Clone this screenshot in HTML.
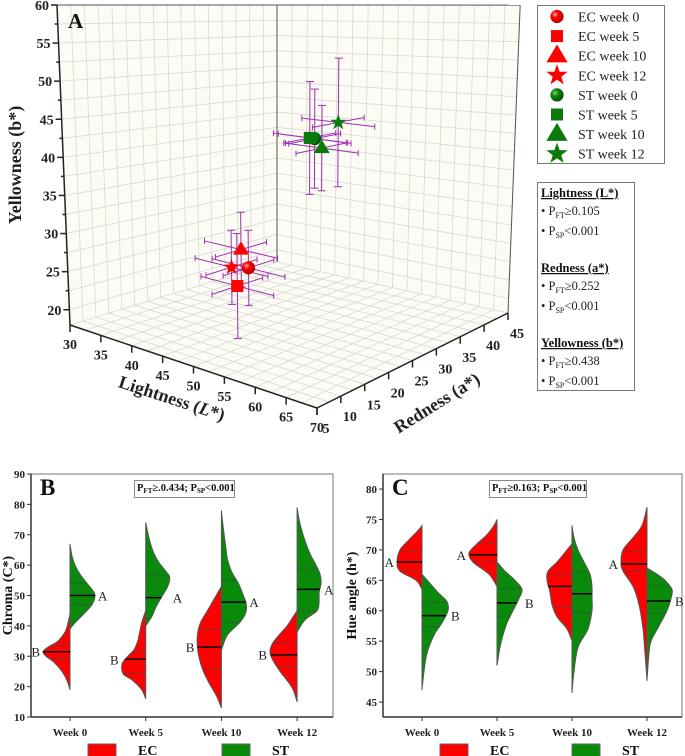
<!DOCTYPE html>
<html><head><meta charset="utf-8">
<style>
html,body{margin:0;padding:0;background:#fff;}
svg{display:block;font-family:"Liberation Serif",serif;}
</style></head>
<body>
<svg id="fig" width="685" height="756" viewBox="0 0 685 756" xmlns="http://www.w3.org/2000/svg">
<defs>
<radialGradient id="gr" cx="0.35" cy="0.35" r="0.7"><stop offset="0" stop-color="#ffb0b0"/><stop offset="0.35" stop-color="#f00"/><stop offset="1" stop-color="#a00"/></radialGradient>
<radialGradient id="gg" cx="0.35" cy="0.35" r="0.7"><stop offset="0" stop-color="#8fd08f"/><stop offset="0.35" stop-color="#0a8a0a"/><stop offset="1" stop-color="#044a04"/></radialGradient>
</defs>
<g id="pa"></g>
<g id="pb"></g>
<g id="pc"></g>
</svg>
<script>
// ---------- Panel A data ----------
const seriesNames = ["EC week 0","EC week 5","EC week 10","EC week 12","ST week 0","ST week 5","ST week 10","ST week 12"];
const lightness = [46, 44.8, 44.8, 43.2, 46.8, 46, 48, 50];
const redness = [21, 20.2, 21, 21, 33, 33, 33, 33.8];
const yellowness = [26, 23.5, 28.2, 25.5, 41.7, 41.7, 40.5, 44.2];
const errL = [6, 6, 6, 6, 6, 6, 6, 6];
const errA = [5, 5, 5, 5, 5, 5, 5, 5];
const errB = [5, 7, 5, 5, 7, 8, 6, 9];
const lTicks = [30,35,40,45,50,55,60,65,70];
const aTicks = [5,10,15,20,25,30,35,40,45];
const bTicks = [20,25,30,35,40,45,50,55,60];

// ---------- Panel B data ----------
const weeks = ["Week 0","Week 5","Week 10","Week 12"];
const chromaTicks = [10,20,30,40,50,60,70,80,90];
const chromaECv = [[19,22,25,28,30,31.5,33,35,38,41,44],[16,19,22,24,26,28,30,32,35,38,41,45],[13,17,21,25,29,33,37,41,45,49,53],[15,19,22,25,28,31,34,37,40,43,45]];
const chromaECd = [[0,3,8,16,24,27,22,12,5,2,0],[0,4,13,22,24,23,18,12,8,6,4,0],[0,5,12,18,22,24,24,21,14,7,0],[0,4,10,17,23,27,25,18,10,4,0]];
const chromaSTv = [[39,41,44,47,50,52,54,57,60,63,67],[40,43,46,49,53,56,58,61,64,68,74],[32,37,41,44,47,50,54,58,62,67,72,78],[38,42,45,48,51,54,57,60,63,67,71,75,79]];
const chromaSTd = [[0,5,14,22,25,22,17,10,5,2,0],[0,6,10,15,22,24,20,13,8,4,0],[0,6,18,24,25,22,17,10,6,4,2,0],[0,8,20,22,22,24,23,19,14,9,5,2,0]];
const chromaECq = [[29,31.5,33.5],[24.5,29,31.5],[26,33,39],[26.5,30.5,34.5]];
const chromaSTq = [[47,50,54],[42.5,49.3,56.5],[41,47.8,55],[45,52,59]];

// ---------- Panel C data ----------
const hueTicks = [45,50,55,60,65,70,75,80];
const hueECv = [[63.5,65,66.5,68,70,71.5,73,74],[64,66,68,69.5,71,72.5,74,75],[55,57,59,61,63,65,66.5,68,70,71],[48.5,53,57,61,64,66.5,68,70,72,74,77]];
const hueECd = [[0,6,22,25,22,14,5,0],[0,8,24,28,20,10,3,0],[0,5,15,20,22,25,24,15,5,0],[0,2,4,8,14,24,26,24,14,5,0]];
const hueSTv = [[47,50,53,56,58,60,61.5,63,64.5,66],[51,54,56,58,60,62,63.5,65,66.5,68],[46.5,50,54,57,60,62,64,66,68,70,72,74],[48.5,53,55,57.5,60,62,63.5,65,66,67]];
const hueSTd = [[0,2,5,12,20,26,25,16,8,0],[0,3,6,10,16,22,25,18,8,0],[0,2,6,16,20,20,20,18,12,6,2,0],[0,2,4,12,20,24,25,18,10,0]];
const hueECq = [[66.5,68,69.8],[68,69.2,71.2],[60.6,64,66],[66.5,67.7,69.8]];
const hueSTq = [[57.4,59.2,61.4],[59,61.3,63.7],[59.7,62.8,66.4],[59.6,61.6,64.2]];

const NS="http://www.w3.org/2000/svg";
function mk(parent, tag, attrs, txt){const e=document.createElementNS(NS,tag);for(const k in attrs)e.setAttribute(k,attrs[k]);if(txt!==undefined)e.textContent=txt;parent.appendChild(e);return e;}
const TK='font-weight:bold;fill:#222;';

// ================= PANEL A =================
const pa=document.getElementById('pa');
const C={LF:[70,325],F:[317,408],R:[508,313],B:[277,262]};
const H={LF:7.62,F:8.83,R:7.33,B:6.12};
const S={LF:-0.31,F:-0.02,R:0.29,B:0};
const bMin=18, bMax=60;
function proj(L,a,b){
  const u=(L-30)/40, v=(a-5)/40;
  const w={LF:(1-u)*(1-v),F:u*(1-v),R:u*v,B:(1-u)*v};
  let x=0,y=0,h=0,s=0;
  for(const k in w){x+=w[k]*C[k][0];y+=w[k]*C[k][1];h+=w[k]*H[k];s+=w[k]*S[k];}
  return [x+(b-bMin)*s, y-(b-bMin)*h];
}
function pstr(pts){return pts.map(p=>p[0].toFixed(1)+','+p[1].toFixed(1)).join(' ');}
let wl=mk(pa,'polygon',{points:pstr([proj(30,5,bMin),proj(30,5,bMax),proj(30,45,bMax),proj(30,45,bMin)]),fill:'#fcfcf5',stroke:'none'});


let wr=mk(pa,'polygon',{points:pstr([proj(30,45,bMin),proj(30,45,bMax),proj(70,45,bMax),proj(70,45,bMin)]),fill:'#fcfcf5',stroke:'none'});


let fl=mk(pa,'polygon',{points:pstr([proj(30,5,bMin),proj(70,5,bMin),proj(70,45,bMin),proj(30,45,bMin)]),fill:'#fcfcf5',stroke:'none'});


const grid=mk(pa,'g',{stroke:'#d9d9d4','stroke-width':0.8});


function ln(g,p,q){mk(g,'line',{x1:p[0],y1:p[1],x2:q[0],y2:q[1]});}
for(let a=5;a<=45;a+=2.5){ln(grid,proj(30,a,bMin),proj(30,a,bMax));ln(grid,proj(30,a,bMin),proj(70,a,bMin));}
for(let L=30;L<=70;L+=2.5){ln(grid,proj(L,45,bMin),proj(L,45,bMax));ln(grid,proj(L,5,bMin),proj(L,45,bMin));}
for(let b=20;b<=60;b+=2.5){ln(grid,proj(30,5,b),proj(30,45,b));ln(grid,proj(30,45,b),proj(70,45,b));}
ln(grid,proj(30,5,bMax),proj(30,45,bMax));
const edges=mk(pa,'g',{stroke:'#555','stroke-width':1});


ln(edges,proj(30,45,bMin),proj(30,45,bMax));
ln(edges,proj(30,45,bMax),proj(70,45,bMax));
ln(edges,proj(70,45,bMax),proj(70,45,bMin));
ln(edges,proj(30,5,bMax),proj(30,45,bMax));
const ax=mk(pa,'g',{stroke:'#222','stroke-width':1.5});


ln(ax,proj(30,5,bMin),proj(30,5,bMax));
ln(ax,proj(30,5,bMin),proj(70,5,bMin));
ln(ax,proj(70,5,bMin),proj(70,45,bMin));
const tl=mk(pa,'g',{});


bTicks.forEach(b=>{const p=proj(30,5,b);ln(ax,p,[p[0]-6,p[1]]);mk(tl,'text',{x:p[0]-8,y:p[1]+5,'text-anchor':'end',style:TK+'font-size:14px;'},b);});
for(let b=22.5;b<60;b+=5){const p=proj(30,5,b);ln(ax,p,[p[0]-3,p[1]]);}
lTicks.forEach(L=>{const p=proj(L,5,bMin);ln(ax,p,[p[0],p[1]+7]);mk(tl,'text',{x:p[0],y:p[1]+24,'text-anchor':'middle',style:TK+'font-size:14px;'},L);});
aTicks.forEach(a=>{const p=proj(70,a,bMin);ln(ax,p,[p[0],p[1]+7]);mk(tl,'text',{x:p[0]+9,y:p[1]+25,'text-anchor':'middle',style:TK+'font-size:14px;'},a);});
let t=mk(pa,'text',{x:0,y:0,transform:'translate(21,165) rotate(-90)','text-anchor':'middle',style:'font-size:18px;font-weight:bold;fill:#222;'},'Yellowness (b*)');


t=mk(pa,'text',{x:0,y:0,transform:'translate(170,404) rotate(18)','text-anchor':'middle',style:'font-size:18px;font-weight:bold;fill:#222;'},'');
t.innerHTML='Lightness (<tspan font-style="italic">L</tspan>*)';


t=mk(pa,'text',{x:0,y:0,transform:'translate(440,408) rotate(-32)','text-anchor':'middle',style:'font-size:18px;font-weight:bold;fill:#222;'},'Redness (a*)');


t=mk(pa,'text',{x:68,y:28,style:'font-size:21px;font-weight:bold;fill:#111;'},'A');


function marker(g,shape,x,y,fill,sz){
  if(shape==='sphere'){return mk(g,'circle',{cx:x,cy:y,r:sz*0.55,fill:fill});}
  if(shape==='square'){return mk(g,'rect',{x:x-sz*0.5,y:y-sz*0.5,width:sz,height:sz,fill:fill});}
  if(shape==='triangle'){const r=sz*0.7;return mk(g,'polygon',{points:`${x},${y-r} ${x+r*0.95},${y+r*0.6} ${x-r*0.95},${y+r*0.6}`,fill:fill});}
  const pts=[];for(let i=0;i<10;i++){const r=i%2?sz*0.28:sz*0.7;const an=-Math.PI/2+i*Math.PI/5;pts.push([x+r*Math.cos(an),y+r*Math.sin(an)]);}
  return mk(g,'polygon',{points:pstr(pts),fill:fill});
}
const shapes=['sphere','square','triangle','star','sphere','square','triangle','star'];
const err=mk(pa,'g',{stroke:'#a030b0','stroke-width':1});


const pts=mk(pa,'g',{});


seriesNames.forEach((nm,i)=>{
  const L=lightness[i],a=redness[i],b=yellowness[i];
  const p1=proj(L-errL[i],a,b),p2=proj(L+errL[i],a,b);ln(err,p1,p2);
  [p1,p2].forEach(p=>ln(err,[p[0],p[1]-3],[p[0],p[1]+3]));
  const q1=proj(L,a-errA[i],b),q2=proj(L,a+errA[i],b);ln(err,q1,q2);
  [q1,q2].forEach(p=>ln(err,[p[0],p[1]-3],[p[0],p[1]+3]));
  const r1=proj(L,a,b-errB[i]),r2=proj(L,a,b+errB[i]);ln(err,r1,r2);
  [r1,r2].forEach(p=>ln(err,[p[0]-4,p[1]],[p[0]+4,p[1]]));
  const c=proj(L,a,b);
  const fill=i<4?(shapes[i]==='sphere'?'url(#gr)':'#f00'):(shapes[i]==='sphere'?'url(#gg)':'#0a7a0a');
  const m=marker(pts,shapes[i],c[0],c[1],fill,12);
  
  
});
const lg=mk(pa,'g',{});


mk(lg,'rect',{x:537.5,y:5.5,width:127,height:158,fill:'#fff',stroke:'#777','stroke-width':1});
seriesNames.forEach((nm,i)=>{
  const y=16.5+i*19.6;
  const fill=i<4?(shapes[i]==='sphere'?'url(#gr)':'#f00'):(shapes[i]==='sphere'?'url(#gg)':'#0a7a0a');
  const g=mk(lg,'g',{});
  
  
  marker(g,shapes[i],557,y,fill,shapes[i]==='star'||shapes[i]==='triangle'?16:12);
  mk(g,'text',{x:578,y:y+5,style:'font-size:14px;fill:#222;'},nm);
});
const sb=mk(pa,'g',{});


mk(sb,'rect',{x:537.5,y:182.5,width:97,height:208,fill:'#fff',stroke:'#777','stroke-width':1});
const stats=[["Lightness (L*)","0.105"],["Redness (a*)","0.252"],["Yellowness (b*)","0.438"]];
stats.forEach((s,i)=>{
  const y0=197+i*75;
  mk(sb,'text',{x:541,y:y0,'text-decoration':'underline',style:'font-size:12.5px;font-weight:bold;fill:#111;'},s[0]);
  const a=mk(sb,'text',{x:541,y:y0+18,style:'font-size:12.5px;fill:#222;'},'');
  a.innerHTML='• P<tspan font-size="8" dy="3">FT</tspan><tspan dy="-3">≥'+s[1]+'</tspan>';
  const b=mk(sb,'text',{x:541,y:y0+38,style:'font-size:12.5px;fill:#222;'},'');
  b.innerHTML='• P<tspan font-size="8" dy="3">SP</tspan><tspan dy="-3">&lt;0.001</tspan>';
});

// ================= VIOLINS =================
function smoothPath(p){
  let d='';
  for(let i=0;i<p.length-1;i++){
    const p0=p[Math.max(0,i-1)],p1=p[i],p2=p[i+1],p3=p[Math.min(p.length-1,i+2)];
    const c1=[p1[0]+(p2[0]-p0[0])/6,p1[1]+(p2[1]-p0[1])/6];
    const c2=[p2[0]-(p3[0]-p1[0])/6,p2[1]-(p3[1]-p1[1])/6];
    d+=` C${c1[0].toFixed(1)},${c1[1].toFixed(1)} ${c2[0].toFixed(1)},${c2[1].toFixed(1)} ${p2[0].toFixed(1)},${p2[1].toFixed(1)}`;
  }
  return d;
}
function widthAt(vs,ds,v){for(let i=0;i<vs.length-1;i++){if(v>=vs[i]&&v<=vs[i+1]){const t=(v-vs[i])/(vs[i+1]-vs[i]);return ds[i]+t*(ds[i+1]-ds[i]);}}return 0;}
function violinPanel(g,cfg){
  const {x0,x1,y0,y1,vmin,vmax,ticks,cats,ecV,ecD,stV,stD,ecQ,stQ,title,letter,ptxt,pbox,ecLab,stLab,leg}=cfg;
  const y=v=>y1-(v-vmin)/(vmax-vmin)*(y1-y0);
  const cx=i=>cfg.cx0+i*cfg.dcx;
  const fr=mk(g,'rect',{x:x0,y:y0,width:x1-x0,height:y1-y0,fill:'none',stroke:'#777','stroke-width':1});
  
  
  const ya=mk(g,'g',{});
  
  
  mk(ya,'line',{x1:x0,y1:y0,x2:x0,y2:y1,stroke:'#333','stroke-width':1.5});
  mk(ya,'line',{x1:x0,y1:y1,x2:x1,y2:y1,stroke:'#333','stroke-width':1.5});
  ticks.forEach(v=>{mk(ya,'line',{x1:x0-4,y1:y(v),x2:x0,y2:y(v),stroke:'#333'});mk(ya,'text',{x:x0-6,y:y(v)+4,'text-anchor':'end',style:TK+'font-size:11px;'},v);});
  const xa=mk(g,'g',{});
  
  
  cats.forEach((c,i)=>{mk(xa,'line',{x1:cx(i),y1:y1,x2:cx(i),y2:y1+4,stroke:'#333'});mk(xa,'text',{x:cx(i),y:y1+19,'text-anchor':'middle',style:TK+'font-size:11px;'},c);});
  let tt=mk(g,'text',{x:0,y:0,transform:`translate(${cfg.tx},${(y0+y1)/2}) rotate(-90)`,'text-anchor':'middle',style:'font-size:14px;font-weight:bold;fill:#111;'},title);
  
  
  tt=mk(g,'text',{x:x0+9,y:y0+21,style:'font-size:23px;font-weight:bold;fill:#111;'},letter);
  
  
  const pb=mk(g,'g',{});
  
  
  mk(pb,'rect',{x:pbox[0]+0.5,y:pbox[1]+0.5,width:pbox[2],height:pbox[3],fill:'#fff',stroke:'#888'});
  const pt=mk(pb,'text',{x:pbox[0]+3,y:pbox[1]+11,style:'font-size:10.5px;font-weight:bold;fill:#111;'},'');
  pt.innerHTML='P<tspan font-size="7" dy="2">FT</tspan><tspan dy="-2">≥'+ptxt+'; P</tspan><tspan font-size="7" dy="2">SP</tspan><tspan dy="-2">&lt;0.001</tspan>';
  cats.forEach((c,i)=>{
    [[ecV,ecD,ecQ,-1,'#f00',ecLab,'ec'],[stV,stD,stQ,1,'#0a8a0a',stLab,'st']].forEach(([V,D,Q,sgn,col,lab,nm])=>{
      const vs=V[i],ds=D[i];
      const p=vs.map((v,k)=>[cx(i)+sgn*ds[k],y(v)]);
      const d=`M${cx(i)},${y(vs[0]).toFixed(1)}`+smoothPath(p)+` L${cx(i)},${y(vs[vs.length-1]).toFixed(1)} Z`;
      const vg=mk(g,'g',{});
      
      
      mk(vg,'path',{d:d,fill:col,stroke:'#555','stroke-width':1});
      Q[i].forEach((q,k)=>{
        const w=widthAt(vs,ds,q);
        if(k===1)mk(vg,'line',{x1:cx(i),y1:y(q),x2:cx(i)+sgn*w,y2:y(q),stroke:'#000','stroke-width':1.5});
        else mk(vg,'line',{x1:cx(i),y1:y(q),x2:cx(i)+sgn*w,y2:y(q),stroke:'#444','stroke-width':1,'stroke-dasharray':'3,2'});
      });
      const wm=Math.max(...ds);
      mk(vg,'text',{x:cx(i)+sgn*(wm+3),y:y(Q[i][1])+5,'text-anchor':sgn<0?'end':'start',style:'font-size:13px;fill:#222;'},lab[i]);
    });
  });
  const lgd=mk(g,'g',{});
  
  
  [['EC','#f00',leg[0]],['ST','#0a8a0a',leg[1]]].forEach(([n,c,lx])=>{
    const e=mk(lgd,'g',{});
    
    
    mk(e,'rect',{x:lx,y:744,width:28,height:14,fill:c,stroke:'#666'});
    mk(e,'text',{x:lx+50,y:755,style:'font-size:14px;font-weight:bold;fill:#111;'},n);
  });
}
violinPanel(document.getElementById('pb'),{x0:31,x1:333,y0:474,y1:717,vmin:10,vmax:90,ticks:chromaTicks,cats:weeks,cx0:70,dcx:75.7,
  ecV:chromaECv,ecD:chromaECd,stV:chromaSTv,stD:chromaSTd,ecQ:chromaECq,stQ:chromaSTq,title:'Chroma (C*)',letter:'B',tx:12,
  ptxt:'.0.434',pbox:[134,480,100,17],ecLab:['B','B','B','B'],stLab:['A','A','A','A'],leg:[88,222]});
violinPanel(document.getElementById('pc'),{x0:383,x1:682,y0:474,y1:717,vmin:42.54,vmax:82.47,ticks:hueTicks,cats:weeks,cx0:422,dcx:75,
  ecV:hueECv,ecD:hueECd,stV:hueSTv,stD:hueSTd,ecQ:hueECq,stQ:hueSTq,title:'Hue angle (h*)',letter:'C',tx:356,
  ptxt:'0.163',pbox:[489,480,97,17],ecLab:['A','A','',"A"],stLab:['B','B','','B'],leg:[440,572]});
</script>
</body></html>
